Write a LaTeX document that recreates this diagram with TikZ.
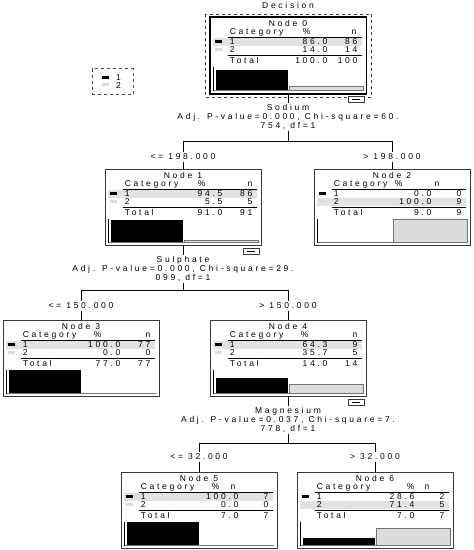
\documentclass[tikz,border=0pt]{standalone}
\usepackage{fontspec}
\usepackage{tikz}
\usetikzlibrary{calc,positioning}
\newfontfamily\spss{Liberation Sans}[LetterSpace=32]
\definecolor{rowgray}{HTML}{E2E2E2}
\definecolor{bargray}{HTML}{DCDCDC}
\definecolor{framegray}{HTML}{3A3A3A}

\tikzset{
  catbox/.style={draw=framegray,line width=0.8pt,minimum width=156pt,minimum height=76pt,inner sep=0pt},
  cell/.style={inner sep=0pt,font=\spss\fontsize{8.5}{9}\selectfont},
  splitlabel/.style={cell,align=center,inner sep=1.5pt},
  edgelabel/.style={cell,inner sep=2pt},
  link/.style={line width=0.8pt},
  foldbox/.style={draw=framegray,line width=0.6pt,fill=white}
}

% #1 node number, #2 top centre, #3/#4 category 1 (% and n), #5/#6 category 2, #7 total n, #8/#9 x of the % and n heads
\newcommand{\catnode}[9]{%
  \node[catbox,anchor=north] (node#1) at (#2) {};
  \ifdim #3pt>#5pt
    \fill[rowgray] ($(node#1.north west)+(3,20.5)$) rectangle ($(node#1.north east)+(-4,28.5)$);
  \else
    \fill[rowgray] ($(node#1.north west)+(3,28.5)$) rectangle ($(node#1.north east)+(-4,36.5)$);
  \fi
  \node[cell,anchor=base] at ($(node#1.north)+(0,9)$) {Node #1};
  \node[cell,anchor=base west] at ($(node#1.north west)+(20,17.5)$) {Category};
  \node[cell,anchor=base east] at ($(node#1.north west)+(#8,17.5)$) {\%};
  \node[cell,anchor=base east] at ($(node#1.north west)+(#9,17.5)$) {n};
  \draw[line width=0.6pt] ($(node#1.north west)+(18,19.8)$) -- ($(node#1.north east)+(-4,19.8)$);
  % category rows
  \fill[black] ($(node#1.north west)+(5,23)$) rectangle ++(7,3);
  \fill[bargray] ($(node#1.north west)+(5,31)$) rectangle ++(7,3);
  \node[cell,anchor=base west] at ($(node#1.north west)+(20,27.5)$) {1};
  \node[cell,anchor=base east] at ($(node#1.north west)+(118,27.5)$) {#3};
  \node[cell,anchor=base east] at ($(node#1.north west)+(148,27.5)$) {#4};
  \node[cell,anchor=base west] at ($(node#1.north west)+(20,35.5)$) {2};
  \node[cell,anchor=base east] at ($(node#1.north west)+(118,35.5)$) {#5};
  \node[cell,anchor=base east] at ($(node#1.north west)+(148,35.5)$) {#6};
  \draw[line width=0.6pt] ($(node#1.north west)+(18,37.8)$) -- ($(node#1.north east)+(-4,37.8)$);
  \node[cell,anchor=base west] at ($(node#1.north west)+(20,46.5)$) {Total};
  \node[cell,anchor=base east] at ($(node#1.north west)+(118,46.5)$) {#7.0};
  \node[cell,anchor=base east] at ($(node#1.north west)+(148,46.5)$) {#7};
  % bar chart
  \fill[black] ($(node#1.north west)+(6,73)$) rectangle ++(72,{-#3*0.23});
  \filldraw[fill=bargray,draw=black!55,line width=0.6pt] ($(node#1.north west)+(80,73)$) rectangle ($(node#1.north east)+(-3,{73-#5*0.23})$);
  \draw[black!55,line width=1pt] ($(node#1.north west)+(4,73.5)$) -- ($(node#1.north east)+(-3,73.5)$);
  \draw[line width=0.8pt] ($(node#1.north west)+(4,50)$) -- ($(node#1.north west)+(4,74)$);
}
\newcommand{\foldmark}[1]{%
  \draw[foldbox] ($(#1.south east)+(-18,2)$) rectangle ($(#1.south east)+(-2,8.5)$);
  \draw[line width=0.6pt] ($(#1.south east)+(-14,5.2)$) -- ($(#1.south east)+(-6,5.2)$);
}

\begin{document}
\begin{tikzpicture}[x=1pt,y=-1pt]
  \useasboundingbox[fill=white] (0,0) rectangle (474,550);
  \node[cell] (title) at (288,5) {Decision};

  % legend
  \node[draw=black!70,dashed,line width=0.8pt,minimum width=41pt,minimum height=26pt,inner sep=0pt] (legend) at (112.5,81.5) {};
  \fill[black] (102,76) rectangle (109,79);
  \fill[bargray] (102,83) rectangle (109,86);
  \node[cell,anchor=base west] (key1) at (116,80) {1};
  \node[cell,anchor=base west] (key2) at (116,88) {2};

  % nodes
  \catnode{0}{288,17}{86.0}{86}{14.0}{14}{100}{101}{147}
  \draw[black!75,dashed,line width=1pt] ($(node0.north west)+(-4,-3)$) rectangle ($(node0.south east)+(5,4)$);
  \draw[line width=1.8pt] (node0.north west) rectangle (node0.south east);
  \catnode{1}{183,169}{94.5}{86}{5.5}{5}{91}{101}{148}
  \catnode{2}{392,169}{0.0}{0}{100.0}{9}{9}{89}{126}
  \catnode{3}{81,320}{100.0}{77}{0.0}{0}{77}{99}{148}
  \catnode{4}{288,320}{64.3}{9}{35.7}{5}{14}{99}{148}
  \catnode{5}{199,472}{100.0}{7}{0.0}{0}{7}{99}{115}
  \catnode{6}{375,472}{28.6}{2}{71.4}{5}{7}{118}{133}
  \foldmark{node0}
  \foldmark{node1}
  \foldmark{node4}

  % splits
  \node[splitlabel] (split0) at (288,117) {Sodium\\Adj. P-value=0.000, Chi-square=60.\\754, df=1};
  \coordinate (fork0) at (288,141);
  \node[edgelabel] (e1) at (183,157) {<= 198.000};
  \node[edgelabel] (e2) at (392,157) {> 198.000};
  \node[splitlabel] (split1) at (183,269) {Sulphate\\Adj. P-value=0.000, Chi-square=29.\\099, df=1};
  \coordinate (fork1) at (183,290);
  \node[edgelabel] (e3) at (81,306) {<= 150.000};
  \node[edgelabel] (e4) at (288,306) {> 150.000};
  \node[splitlabel] (split4) at (288,420) {Magnesium\\Adj. P-value=0.037, Chi-square=7.\\778, df=1};
  \coordinate (fork4) at (288,443);
  \node[edgelabel] (e5) at (199,457) {<= 32.000};
  \node[edgelabel] (e6) at (375,457) {> 32.000};

  % connectors
  \draw[link] (node0) -- (split0);
  \draw[link] (split0) -- (fork0) -| (e1);
  \draw[link] (fork0) -| (e2);
  \draw[link] (e1) -- (node1);
  \draw[link] (e2) -- (node2);
  \draw[link] (node1) -- (split1);
  \draw[link] (split1) -- (fork1) -| (e3);
  \draw[link] (fork1) -| (e4);
  \draw[link] (e3) -- (node3);
  \draw[link] (e4) -- (node4);
  \draw[link] (node4) -- (split4);
  \draw[link] (split4) -- (fork4) -| (e5);
  \draw[link] (fork4) -| (e6);
  \draw[link] (e5) -- (node5);
  \draw[link] (e6) -- (node6);
\end{tikzpicture}
\end{document}
